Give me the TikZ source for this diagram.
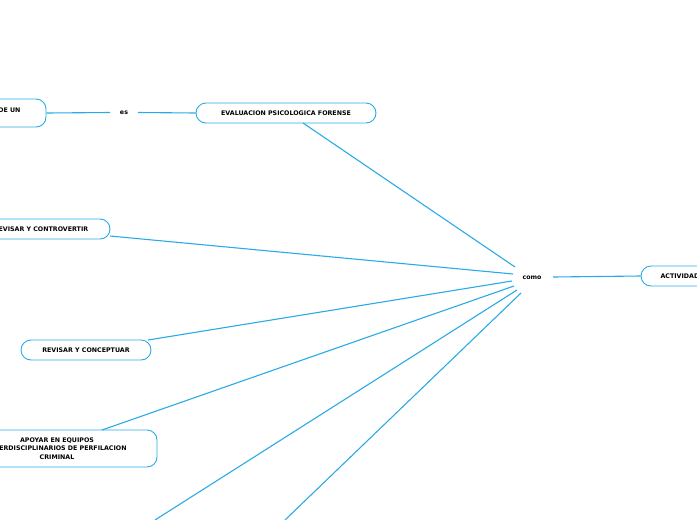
\documentclass[tikz,border=0pt]{standalone}
\usepackage{fontspec}
\setmainfont{DejaVu Sans}
\begin{document}
\begin{tikzpicture}[x=1pt,y=-1pt,
  box/.style={draw=lnc,line width=0.9pt,rounded corners=10pt,inner sep=0pt},
  lbl/.style={font=\bfseries\fontsize{6.3}{8.4}\selectfont,align=center,text=black},
  conn/.style={draw=lnc,line width=1.1pt}]
\definecolor{lnc}{HTML}{2AAAE6}
\useasboundingbox (0,0) rectangle (697,520);
\clip (0,0) rectangle (697,520);
\node[box,minimum width=106pt,minimum height=28pt] (deun) at (-7,113) {};
\node[lbl,anchor=east] (deunt) at (24,110) {DE UN};
\node[lbl] (es) at (124,112.5) {es};
\node[box,lbl,minimum width=180pt,minimum height=20pt] (eval) at (286,113) {EVALUACION PSICOLOGICA FORENSE};
\node[box,lbl,minimum width=138pt,minimum height=20pt] (rcontr) at (41,229) {REVISAR Y CONTROVERTIR};
\node[box,lbl,minimum width=130pt,minimum height=20pt] (rconc) at (86,350) {REVISAR Y CONCEPTUAR};
\node[box,lbl,minimum width=200pt,minimum height=37pt] (apoyar) at (57,448.5) {APOYAR EN EQUIPOS\\INTERDISCIPLINARIOS DE PERFILACION\\CRIMINAL};
\node[lbl] (como) at (532,277.5) {como};
\node[box,minimum width=130pt,minimum height=20pt] (activ) at (706,276) {};
\node[lbl,anchor=west] (activt) at (657,276) {ACTIVIDAD};
\coordinate (f1) at (155,520);
\coordinate (f2) at (285,520);
\draw[conn] (deun.east) -- (110,112.5);
\draw[conn] (138,112.5) -- (eval.west);
\draw[conn] (303,123) -- (515,267);
\draw[conn] (110,236) -- (513,274);
\draw[conn] (148,340) -- (512,281);
\draw[conn] (102,430) -- (514,286);
\draw[conn] (f1) -- (517,290);
\draw[conn] (f2) -- (521,293);
\draw[conn] (553,277) -- (activ.west);
\end{tikzpicture}
\end{document}
